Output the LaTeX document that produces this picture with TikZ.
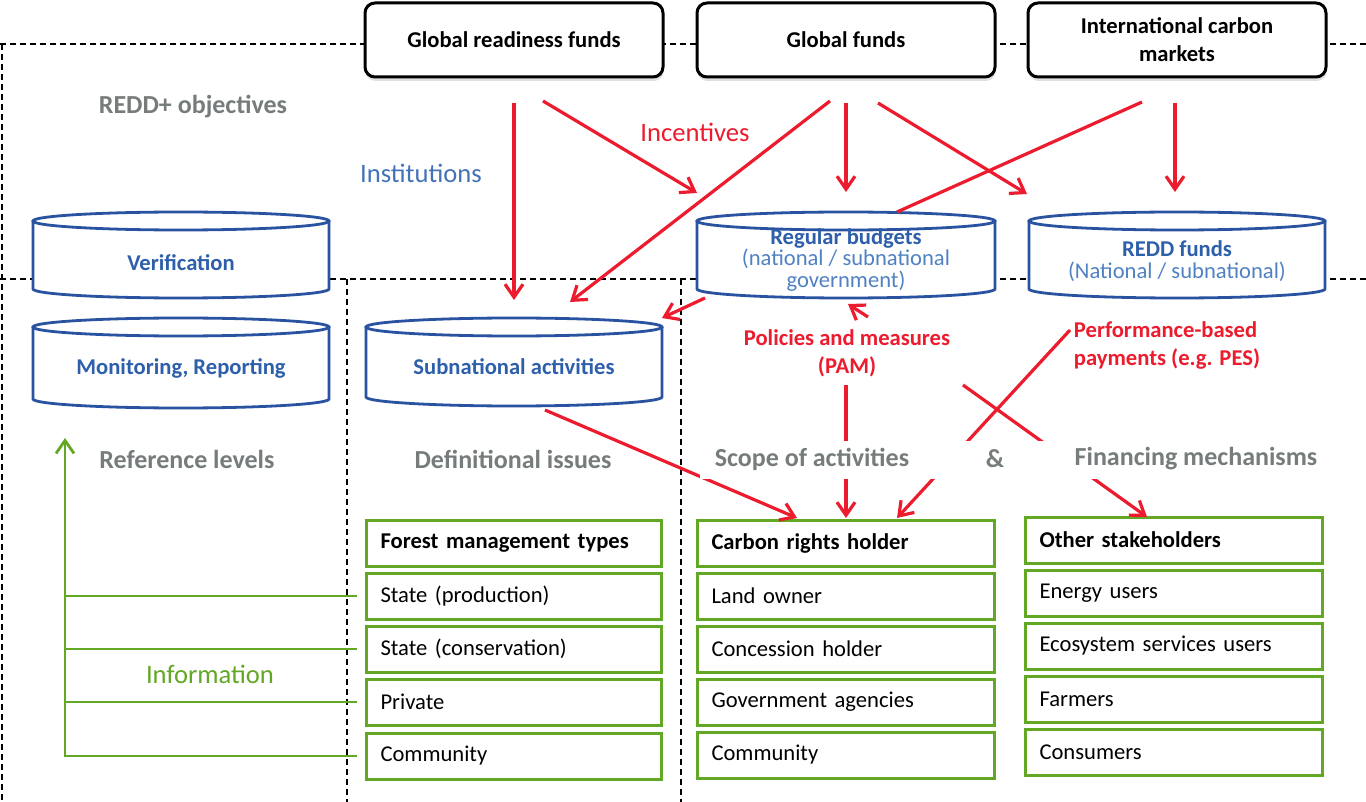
\documentclass[tikz,border=0pt]{standalone}
\usepackage{fontspec}
\setmainfont{Carlito}
\usetikzlibrary{arrows.meta,shadows}
\definecolor{myred}{RGB}{236,28,46}
\definecolor{mygreen}{RGB}{98,168,36}
\definecolor{cylblue}{RGB}{41,82,160}
\definecolor{tblue}{RGB}{45,95,170}
\definecolor{tbluelt}{RGB}{80,130,195}
\definecolor{lblblue}{RGB}{68,114,185}
\definecolor{lblgray}{RGB}{118,124,124}
\newcommand\fs{\fontsize{11.3}{14}\selectfont}
\newcommand\fl{\fontsize{13.3}{15}\selectfont}
\newcommand\fg{\fontsize{13}{15}\selectfont\bfseries}
\newcommand\mycyl[5]{%
  \pgfmathsetmacro\cxa{(#2+#3)/2}%
  \pgfmathsetmacro\rxa{(#3-#2)/2}%
  \pgfmathsetmacro\yta{#4+9}%
  \pgfmathsetmacro\yba{#5-9}%
  \pgfmathsetmacro\kxa{0.5523*\rxa}%
  \pgfmathsetmacro\kya{\yba+0.5523*9}%
  \pgfmathsetmacro\rxpt{\rxa/2}%
  \pgfmathsetmacro\cla{\cxa-\kxa}%
  \pgfmathsetmacro\cra{\cxa+\kxa}%
  \draw[cylline,fill=white] (#2,\yta) -- (#2,\yba) .. controls (#2,\kya) and (\cla,#5) .. (\cxa,#5) .. controls (\cra,#5) and (#3,\kya) .. (#3,\yba) -- (#3,\yta);
  \draw[cylline,fill=white] (\cxa,\yta) ellipse [x radius=\rxpt pt, y radius=4.5pt];
}
\begin{document}
\begin{tikzpicture}[x=0.5pt,y=-0.5pt,
  dline/.style={draw=black, line width=0.8pt, dash pattern=on 3pt off 2pt},
  topbox/.style={draw=black, line width=1.5pt, rounded corners=5pt, fill=white,
    minimum width=149pt, minimum height=37pt, align=center, font=\fs\bfseries,
    drop shadow={shadow xshift=0.3pt, shadow yshift=-2pt, opacity=0.25}},
  cylline/.style={draw=cylblue, line width=1.4pt},
  cyltext/.style={align=center, font=\fs\bfseries, text=tblue, inner sep=0pt},
  redarrow/.style={draw=myred, line width=1.6pt, -{Straight Barb[length=6.5pt,width=9pt]}},
  redline/.style={draw=myred, line width=1.6pt},
  redlbl/.style={font=\fs\bfseries, text=myred, inner sep=0pt},
  graylbl/.style={font=\fg, text=lblgray, inner sep=0pt},
  gbox/.style={draw=mygreen, line width=1.5pt, fill=white, minimum height=23pt,
    text width=134.5pt, inner xsep=7pt, align=left, font=\fs},
  gline/.style={draw=mygreen, line width=1.4pt}
]
\useasboundingbox[fill=white] (0,0) rectangle (1366,802);
% dashed frame lines
\draw[dline] (0,44) -- (1366,44);
\draw[dline] (2,44) -- (2,802);
\draw[dline] (0,279) -- (1366,279);
\draw[dline] (347,279) -- (347,802);
\draw[dline] (681,279) -- (681,802);
% top boxes
\node[topbox] (grf) at (514,40) {Global readiness funds};
\node[topbox] (gf) at (846,40) {Global funds};
\node[topbox] (icm) at (1177,40) {International carbon\\markets};
% cylinders
\mycyl{verif}{33}{329}{212}{298}
\mycyl{monit}{33}{329}{318}{408}
\mycyl{subn}{366}{662}{318}{406}
\mycyl{regb}{697}{995}{212}{298}
\mycyl{redd}{1029}{1325}{212}{298}
\node[cyltext] (verif) at (181,263) {Verification};
\node[cyltext] (monit) at (181,368) {Monitoring, Reporting};
\node[cyltext] (subn) at (514,367) {Subnational activities};
\node[cyltext, font=\fontsize{11.3}{10.6}\selectfont\bfseries] (regb) at (846,260) {Regular budgets\\\textcolor{tbluelt}{\mdseries (national / subnational}\\\textcolor{tbluelt}{\mdseries government)}};
\node[cyltext, font=\fontsize{11.3}{11}\selectfont\bfseries] (redd) at (1177,261) {REDD funds\\\textcolor{tbluelt}{\mdseries (National / subnational)}};
% labels
\node[graylbl] (obj) at (193,107) {REDD+ objectives};
\node[font=\fl, text=lblblue, inner sep=0pt] (inst) at (421,173) {Institutions};
\node[font=\fl, text=myred, inner sep=0pt] (inc) at (695,132) {Incentives};
\node[redlbl, align=center] (pam) at (847,353) {Policies and measures\\(PAM)};
\node[redlbl, align=left] (pes) at (1167,345) {Performance-based\\payments (e.g. PES)};
\node[graylbl] (ref) at (187,459) {Reference levels};
\node[graylbl] (defi) at (513,459) {Definitional issues};
\node[font=\fl, text=mygreen, inner sep=0pt] (info) at (210,674) {Information};
% red connectors
\draw[redarrow] ([shift={(0,63)}]grf.center) -- ([shift={(0,-67)}]subn.center);
\draw[redarrow] ([shift={(29,61)}]grf.center) -- ([shift={(-149,-67)}]regb.center);
\draw[redarrow] ([shift={(-16,61)}]gf.center) -- ([shift={(56,-65)}]subn.center);
\draw[redarrow] ([shift={(0,63)}]gf.center) -- ([shift={(0,-68)}]regb.center);
\draw[redarrow] ([shift={(32,63)}]gf.center) -- ([shift={(-150,-67)}]redd.center);
\draw[redline] ([shift={(-35,62)}]icm.center) -- ([shift={(51,-48)}]regb.center);
\draw[redarrow] ([shift={(-2,63)}]icm.center) -- ([shift={(-2,-69)}]redd.center);
\draw[redarrow] ([shift={(-141,38)}]regb.center) -- ([shift={(148,-49)}]subn.center);
% lower boxes
\node[gbox, font=\fs\bfseries] (crh) at (846,543) {Carbon rights holder};
\node[gbox] (lo) at (846,596) {Land owner};
\node[gbox] (ch) at (846,649) {Concession holder};
\node[gbox] (ga) at (846,702) {Government agencies};
\node[gbox] (cmB) at (846,755) {Community};
\node[gbox, font=\fs\bfseries] (ost) at (1174,540) {Other stakeholders};
\node[gbox] (eu) at (1174,593) {Energy users};
\node[gbox] (esu) at (1174,646) {Ecosystem services users};
\node[gbox] (fa) at (1174,699) {Farmers};
\node[gbox] (co) at (1174,752) {Consumers};
\node[gbox, font=\fs\bfseries, text width=133.5pt] (fmt) at (514,543) {Forest management types};
\node[gbox, text width=133.5pt] (sp) at (514,596) {State (production)};
\node[gbox, text width=133.5pt] (sc) at (514,649) {State (conservation)};
\node[gbox, text width=133.5pt] (pr) at (514,702) {Private};
\node[gbox, text width=133.5pt] (cmA) at (514,756) {Community};
\draw[redarrow] ([shift={(31,43)}]subn.center) -- ([shift={(-49,-25)}]crh.center);
\draw[redarrow] ([shift={(-1,32)}]pam.center) -- ([shift={(0,-25)}]crh.center);
\draw[redarrow] ([shift={(21,-36)}]pam.center) -- ([shift={(2,44)}]regb.center);
\draw[redarrow] ([shift={(116,32)}]pam.center) -- ([shift={(-27,-23)}]ost.center);
\draw[redarrow] ([shift={(-97,-15)}]pes.center) -- ([shift={(51,-25)}]crh.center);
% white band under the middle headings
\node[fill=white, minimum width=317pt, minimum height=19pt, inner sep=0pt] (band) at (1017,460) {};
\node[graylbl] (scope) at (812,459) {Scope of activities};
\node[graylbl] (amp) at (995,459) {\&};
\node[graylbl] (finm) at (1196,459) {Financing mechanisms};
% green information lines
\coordinate (infotop) at (65,438);
\draw[gline, -{Straight Barb[length=6.5pt,width=9pt]}] ([xshift=-4pt]cmA.west) -| (infotop);
\draw[gline] ([xshift=-4pt]sp.west) -- (sp.west -| infotop);
\draw[gline] ([xshift=-4pt]sc.west) -- (sc.west -| infotop);
\draw[gline] ([xshift=-4pt]pr.west) -- (pr.west -| infotop);
\end{tikzpicture}
\end{document}
